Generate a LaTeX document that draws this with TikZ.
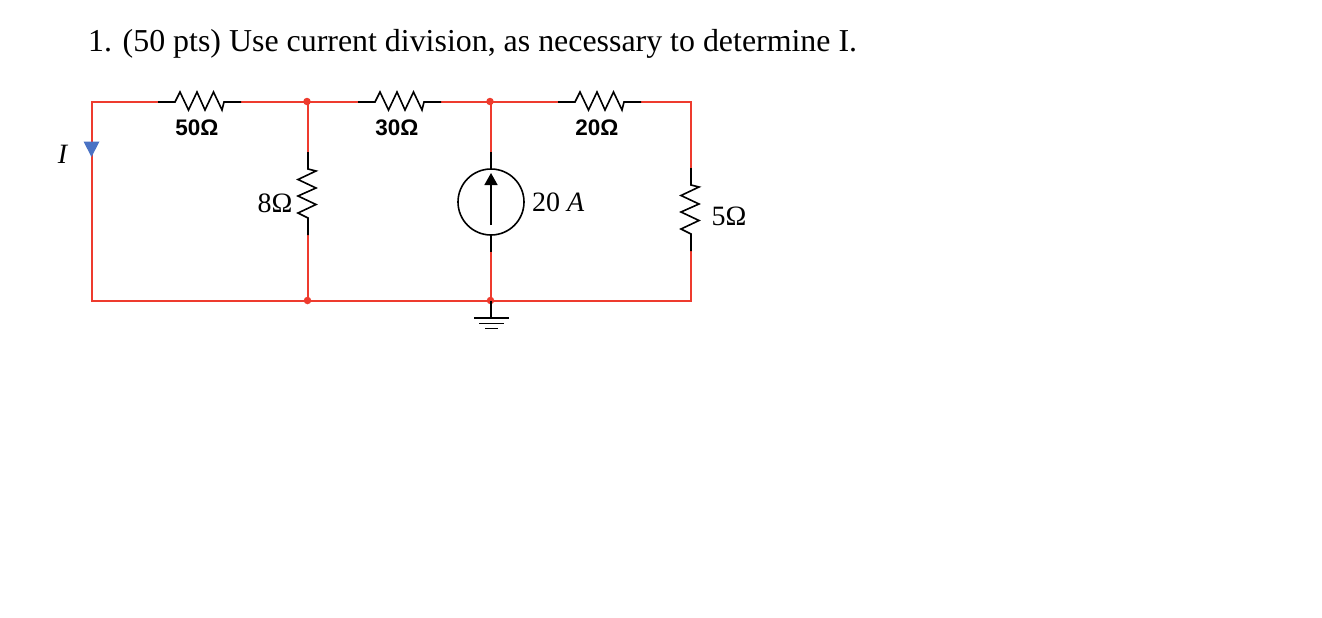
\documentclass[tikz,border=0pt]{standalone}
\usepackage{fontspec}
\setmainfont{Liberation Serif}
\newfontfamily\labelsans{Liberation Sans}
\usetikzlibrary{arrows.meta}
\definecolor{wirered}{HTML}{EE3B2E}
\definecolor{currblue}{HTML}{4A72C4}
\tikzset{
  wire/.style={draw=wirered,line width=2pt,line join=miter},
  blk/.style={draw=black,line width=1.6pt,line join=miter},
  dot/.style={circle,fill=wirered,inner sep=0pt,minimum size=7.5pt},
  rlabel/.style={font=\labelsans\bfseries\fontsize{22.5}{22.5}\selectfont,inner sep=0pt,text=black},
  vlabel/.style={font=\fontsize{28}{28}\selectfont,inner sep=0pt,text=black},
  pics/res/.style={code={
    \draw[blk] (-41.5,0) -- (-24.5,0) -- (-19.5,-10) -- (-11,8) -- (-2.5,-10) -- (5.5,8) -- (14,-10) -- (22.5,8) -- (24.5,0) -- (41.5,0);
  }}
}
\begin{document}
\begin{tikzpicture}[x=1pt,y=-1pt]
\useasboundingbox (0,0) rectangle (1322,618);
\fill[white] (0,0) rectangle (1322,618);
\node[anchor=west,inner sep=0pt,font=\fontsize{31.9}{32}\selectfont] (title) at (88,44) {1. (50 pts) Use current division, as necessary to determine I.};
% corners and junctions
\coordinate (tl) at (92,102);
\coordinate (bl) at (92,301);
\coordinate (tr) at (691,102);
\coordinate (br) at (691,301);
\node[dot] (j1) at (307,101.5) {};
\node[dot] (j2) at (490,101.5) {};
\node[dot] (j3) at (307.5,300.5) {};
\node[dot] (j4) at (490.5,300.5) {};
% component terminals
\coordinate (r50a) at (158,102); \coordinate (r50b) at (241,102);
\coordinate (r30a) at (358,102); \coordinate (r30b) at (441,102);
\coordinate (r20a) at (558,102); \coordinate (r20b) at (641,102);
\coordinate (r8a) at (308,152); \coordinate (r8b) at (308,235);
\coordinate (r5a) at (691,168); \coordinate (r5b) at (691,251);
\coordinate (sa) at (491,152); \coordinate (sb) at (491,252);
\coordinate (t8) at (308,102); \coordinate (ts) at (491,102);
\coordinate (b8) at (308,301); \coordinate (bs) at (491,301);
% wires
\draw[wire] (r50a) -- (tl) -- (bl) -- (b8) -- (bs) -- (br) -- (r5b);
\draw[wire] (r5a) -- (tr) -- (r20b);
\draw[wire] (r50b) -- (t8) -- (r30a);
\draw[wire] (r30b) -- (ts) -- (r20a);
\draw[wire] (t8) -- (r8a);
\draw[wire] (r8b) -- (b8);
\draw[wire] (ts) -- (sa);
\draw[wire] (sb) -- (bs);
% resistors
\pic at (199.5,102) {res};
\pic at (399.5,102) {res};
\pic at (599.5,102) {res};
\pic[rotate=90] at (308,193.5) {res};
\pic[rotate=90] at (691,209.5) {res};
% source
\node[circle,draw=black,line width=1.6pt,minimum size=66pt,inner sep=0pt] (src) at (491,202) {};
\draw[blk] (sa) -- (src.north);
\draw[blk] (src.south) -- (sb);
\draw[blk,-{Triangle[length=12pt,width=13pt]}] (491,225) -- (491,173);
% ground
\coordinate (gnd) at (491,318);
\draw[blk] (bs) -- (gnd);
\draw[blk] (474,318) -- (509,318);
\draw[blk] (479,323.5) -- (504,323.5);
\draw[blk] (485,328.5) -- (498,328.5);
% current arrow
\fill[currblue] (83.5,141.5) -- (99.5,141.5) -- (91.5,157) -- cycle;
% labels
\node[rlabel] (l50) at (197,128) {50Ω};
\node[rlabel] (l30) at (397,128) {30Ω};
\node[rlabel] (l20) at (597,128) {20Ω};
\node[vlabel] (l8) at (275,203) {8Ω};
\node[vlabel] (l5) at (729,216) {5Ω};
\node[vlabel,anchor=west] (ls) at (532,202) {20 \textit{A}};
\node[vlabel] (li) at (63,154) {\textit{I}};
\end{tikzpicture}
\end{document}
